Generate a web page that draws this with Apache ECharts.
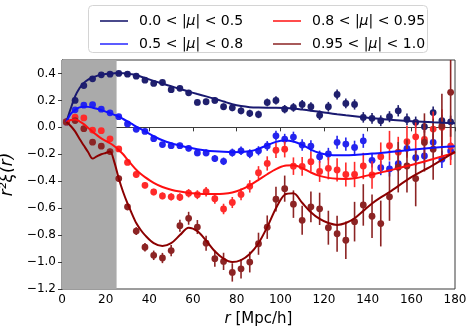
<!DOCTYPE html>
<html><head><meta charset="utf-8">
<script src="https://cdn.jsdelivr.net/npm/echarts@6/dist/echarts.min.js"></script>
<style>html,body{margin:0;padding:0;background:#fff}#c{width:474px;height:330px}</style>
</head><body><div id="c"></div>
<script>
// data point radii (Mpc/h)
const rPts = [2,6,10,14,18,22,26,30,34,38,42,46,50,54,58,62,66,70,74,78,82,86,90,94,98,102,106,110,114,118,122,126,130,134,138,142,146,150,154,158,162,166,170,174,178];
const navyPts = [0.04,0.20,0.31,0.36,0.39,0.395,0.40,0.395,0.38,0.35, 0.326,0.333,0.28,0.29,0.256,0.185,0.19,0.2,0.153,0.145, 0.123,0.104,0.096,0.185,0.2,0.135,0.148,0.17,0.153,0.09, 0.153,0.244,0.178,0.17,0.074,0.067,0.049,0.079,0.123,0.059, 0.037,0.005,0.11,0.049,0.041];
const bluePts = [0.04,0.13,0.165,0.168,0.135,0.108,0.079,0.025,-0.015,-0.03, -0.084,-0.128,-0.136,-0.136,-0.156,-0.19,-0.19,-0.232,-0.252,-0.188, -0.174,-0.196,-0.174,-0.138,-0.063,-0.087,-0.072,-0.131,-0.139,-0.218, -0.198,-0.111,-0.124,-0.149,-0.1,-0.245,-0.3,-0.309,-0.27,-0.156, -0.225,-0.212,-0.111,-0.236,-0.175];
const redPts = [0.04,0.075,0.07,-0.02,-0.025,-0.085,-0.16,-0.26,-0.35,-0.43, -0.48,-0.509,-0.516,-0.518,-0.489,-0.5,-0.478,-0.53,-0.606,-0.558, -0.498,-0.438,-0.337,-0.268,-0.17,-0.162,-0.288,-0.29,-0.255,-0.327, -0.304,-0.316,-0.35,-0.35,-0.287,-0.353,-0.218,-0.136,-0.184,-0.107, -0.07,-0.09,-0.013,0.0,-0.14];
const darkPts = [0.04,0.05,-0.01,-0.11,-0.14,-0.18,-0.38,-0.59,-0.77,-0.89, -0.95,-0.97,-0.915,-0.73,-0.675,-0.74,-0.86,-0.975,-0.995,-1.077, -1.05,-1.0,-0.864,-0.741,-0.533,-0.455,-0.57,-0.69,-0.59,-0.605, -0.745,-0.79,-0.838,-0.7,-0.576,-0.66,-0.714,-0.516,-0.296,-0.287, -0.38,-0.112,-0.162,0.01,0.26];
const navyErr = [0.008,0.01,0.01,0.01,0.012,0.012,0.012,0.013,0.014,0.015, 0.016,0.017,0.018,0.019,0.02,0.021,0.022,0.023,0.024,0.025, 0.026,0.027,0.028,0.029,0.03,0.031,0.032,0.033,0.034,0.035, 0.036,0.037,0.037,0.038,0.039,0.04,0.04,0.041,0.042,0.043, 0.043,0.044,0.045,0.045,0.046];
const blueErr = [0.008,0.01,0.011,0.012,0.013,0.013,0.014,0.015,0.016,0.017, 0.018,0.019,0.02,0.021,0.022,0.024,0.025,0.026,0.028,0.03, 0.031,0.033,0.034,0.036,0.037,0.039,0.04,0.042,0.043,0.045, 0.046,0.048,0.049,0.05,0.052,0.053,0.055,0.056,0.058,0.059, 0.06,0.062,0.063,0.065,0.066];
const redErr = [0.01,0.012,0.014,0.015,0.016,0.017,0.018,0.02,0.021,0.022, 0.024,0.026,0.027,0.029,0.031,0.033,0.035,0.037,0.039,0.041, 0.044,0.046,0.049,0.053,0.057,0.061,0.065,0.069,0.073,0.078, 0.082,0.086,0.09,0.094,0.098,0.102,0.106,0.11,0.114,0.118, 0.122,0.126,0.13,0.134,0.14];
const darkErr = [0.012,0.014,0.016,0.018,0.02,0.022,0.024,0.026,0.029,0.032, 0.035,0.038,0.041,0.045,0.048,0.052,0.056,0.06,0.064,0.068, 0.072,0.077,0.082,0.087,0.092,0.097,0.102,0.108,0.114,0.12, 0.126,0.133,0.14,0.147,0.154,0.162,0.17,0.178,0.187,0.196, 0.206,0.216,0.227,0.24,0.33];
// model curves
const modelR = [2,4,6,8,10,12,14,16,18,20,22,24,26,28,30,32,34,36,38,42,46,50,54,58,62,66,70,74,78,82,86,90,94,98,102,106,110,114,118,122,126,130,134,138,142,146,150,160,170,180];
const navyModel = [0.04,0.14,0.23,0.29,0.33,0.355,0.37,0.382,0.39,0.396,0.4,0.402,0.403,0.402,0.4,0.394,0.387,0.378,0.367,0.345,0.325,0.305,0.285,0.265,0.247,0.23,0.212,0.192,0.172,0.158,0.15,0.147,0.146,0.146,0.144,0.14,0.132,0.124,0.115,0.106,0.097,0.089,0.082,0.075,0.068,0.062,0.056,0.046,0.037,0.03];
const blueModel = [0.04,0.1,0.13,0.148,0.153,0.152,0.146,0.138,0.128,0.117,0.106,0.093,0.079,0.062,0.044,0.025,0.006,-0.012,-0.03,-0.066,-0.096,-0.118,-0.135,-0.15,-0.162,-0.172,-0.178,-0.182,-0.184,-0.183,-0.178,-0.16,-0.132,-0.108,-0.098,-0.105,-0.13,-0.165,-0.19,-0.203,-0.208,-0.208,-0.205,-0.2,-0.195,-0.19,-0.183,-0.167,-0.152,-0.14];
const redModel = [0.04,0.055,0.058,0.045,0.024,-0.004,-0.032,-0.058,-0.082,-0.1,-0.118,-0.14,-0.168,-0.2,-0.24,-0.278,-0.315,-0.345,-0.37,-0.412,-0.443,-0.463,-0.477,-0.487,-0.492,-0.495,-0.495,-0.493,-0.483,-0.462,-0.43,-0.39,-0.348,-0.31,-0.285,-0.282,-0.302,-0.335,-0.36,-0.375,-0.382,-0.383,-0.378,-0.365,-0.35,-0.335,-0.32,-0.28,-0.235,-0.188];
const darkModel = [0.04,0.01,-0.03,-0.085,-0.135,-0.185,-0.232,-0.215,-0.2,-0.19,-0.18,-0.26,-0.38,-0.48,-0.565,-0.64,-0.71,-0.76,-0.8,-0.86,-0.88,-0.86,-0.8,-0.745,-0.77,-0.84,-0.92,-0.975,-1.0,-0.985,-0.94,-0.86,-0.74,-0.6,-0.5,-0.49,-0.56,-0.63,-0.68,-0.71,-0.724,-0.71,-0.675,-0.62,-0.565,-0.52,-0.48,-0.37,-0.28,-0.18];
const labels = ['0.0 < |μ| < 0.5','0.5 < |μ| < 0.8','0.8 < |μ| < 0.95','0.95 < |μ| < 1.0'];
const xTicks = [0,20,40,60,80,100,120,140,160,180];
const yTicks = [-1.2,-1.0,-0.8,-0.6,-0.4,-0.2,0.0,0.2,0.4];
const shadeRange = [0,25];

const groups = [
  {pts:navyPts, err:navyErr, model:navyModel, line:'#191970', mark:'#20206e', leg:'#4a4a8c'},
  {pts:bluePts, err:blueErr, model:blueModel, line:'#1010ff', mark:'#2424ee', leg:'#5c5cff'},
  {pts:redPts, err:redErr, model:redModel, line:'#ff1010', mark:'#ff2a2a', leg:'#ff4c4c'},
  {pts:darkPts, err:darkErr, model:darkModel, line:'#8b0000', mark:'#8c2424', leg:'#a85a5a'}
];
const FONT = 'DejaVu Sans';
const series = [{
  type:'line', name:'shade', data:[], z:1, silent:true,
  markArea:{silent:true, itemStyle:{color:'#aaaaaa', opacity:1}, data:[[{xAxis:shadeRange[0]},{xAxis:shadeRange[1]}]]}
}];
groups.forEach((g, gi) => {
  series.push({
    type:'custom', name:'pts'+gi, z:2+gi, clip:true,
    dimensions:['r','v','e'], encode:{x:0, y:1},
    data: rPts.map((r,i)=>[r, g.pts[i], g.err[i]]),
    renderItem: (params, api) => {
      const x = api.value(0), y = api.value(1), e = api.value(2);
      const p = api.coord([x,y]), hi = api.coord([x,y+e]), lo = api.coord([x,y-e]);
      return {type:'group', children:[
        {type:'line', shape:{x1:p[0],y1:hi[1],x2:p[0],y2:lo[1]}, style:{stroke:g.mark, lineWidth:1.6}},
        {type:'circle', shape:{cx:p[0],cy:p[1],r:3.4}, style:{fill:g.mark}}
      ]};
    }
  });
});
groups.forEach((g, gi) => {
  series.push({
    type:'line', name:labels[gi], z:10+gi, showSymbol:false, smooth:0.3,
    data: modelR.map((r,i)=>[r, g.model[i]]),
    lineStyle:{color:g.line, width:2}, itemStyle:{color:g.line}
  });
});
const legText = {fontSize:14, fontFamily:FONT, color:'#000', lineHeight:16, padding:[0,0,0,6],
  rich:{i:{fontStyle:'italic', fontSize:14, fontFamily:FONT, color:'#000'}}};
const fmt = n => n.replace('μ','{i|μ}');
function legend(idxs, left){
  return {orient:'vertical', left:left, top:8, itemWidth:28, itemHeight:2, itemGap:7, icon:'rect',
    selectedMode:false, textStyle:legText, formatter:fmt,
    data: idxs.map(i=>({name:labels[i], itemStyle:{color:groups[i].leg}}))};
}
const chart = echarts.init(document.getElementById('c'), null, {renderer:'canvas'});
chart.setOption({
  animation:false,
  graphic:[{type:'rect', shape:{x:88.5,y:5.5,width:339,height:47,r:4}, style:{fill:'#fff', stroke:'#d4d4d4', lineWidth:1}, z:-1}],
  legend:[legend([0,1],95), legend([2,3],268)],
  grid:{left:62, right:19, top:60, bottom:41, show:true, borderColor:'#3a3a3a', borderWidth:1, containLabel:false, outerBoundsMode:'none'},
  xAxis:{type:'value', min:0, max:180, interval:20,
    name:'{i|r} [Mpc/h]', nameLocation:'middle', nameGap:23,
    nameTextStyle:{fontSize:15, fontFamily:FONT, color:'#000', rich:{i:{fontStyle:'italic', fontSize:15, fontFamily:FONT, color:'#000'}}},
    axisLine:{lineStyle:{color:'#3a3a3a'}}, axisTick:{inside:false, length:4, lineStyle:{color:'#3a3a3a'}, customValues:xTicks},
    axisLabel:{fontSize:12, fontFamily:FONT, color:'#000', margin:5, customValues:xTicks}, splitLine:{show:false}},
  yAxis:{type:'value', min:-1.2, max:0.5,
    name:'r²ξ(r)', nameLocation:'middle', nameGap:34, nameRotate:90,
    nameTextStyle:{fontSize:17, fontFamily:FONT, fontStyle:'italic', color:'#000'},
    axisLine:{show:true, lineStyle:{color:'#3a3a3a'}}, axisTick:{show:true, length:4, lineStyle:{color:'#3a3a3a'}, customValues:yTicks},
    axisLabel:{fontSize:12, fontFamily:FONT, color:'#000', margin:6, customValues:yTicks,
      formatter: v => (v < -1e-9 ? '\u2212' : '') + Math.abs(v).toFixed(1)}, splitLine:{show:false}},
  series: series
});
</script></body></html>
